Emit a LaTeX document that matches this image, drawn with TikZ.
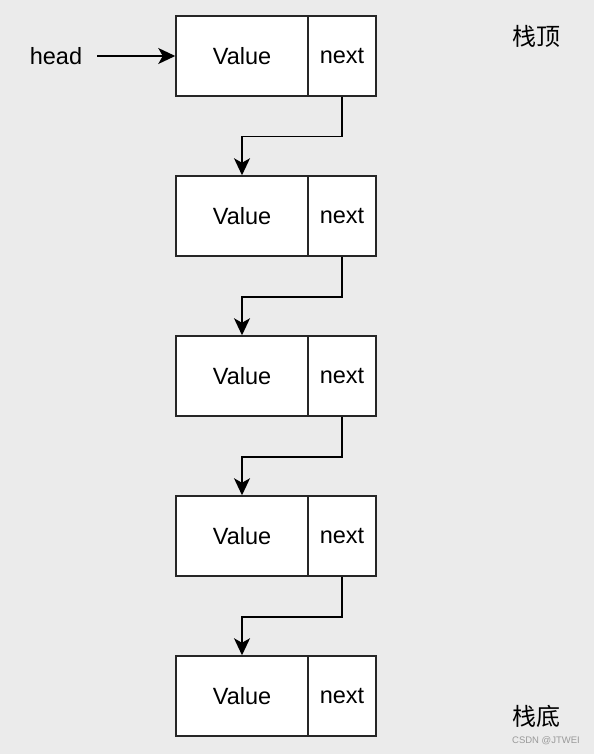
\documentclass[tikz,border=0pt]{standalone}
\usepackage{fontspec}
\setmainfont{Liberation Sans}
\newfontfamily\cjk{Noto Sans CJK SC}
\usetikzlibrary{arrows.meta}
\definecolor{bg}{HTML}{EBEBEB}
\definecolor{wm}{HTML}{9A9A9A}
\tikzset{
  cell/.style={draw=black!85, fill=white, line width=1.5pt, minimum height=80pt, inner sep=0pt, font=\fontsize{23.5}{26}\selectfont},
  valcell/.style={cell, minimum width=132pt},
  nextcell/.style={cell, minimum width=68pt},
  arr/.style={line width=1.5pt, -{Stealth[length=17pt,width=16pt,inset=4.5pt]}},
  lbl/.style={inner sep=0pt, font=\fontsize{23.5}{26}\selectfont},
  cjklbl/.style={inner sep=0pt, font=\cjk\fontsize{24}{26}\selectfont}
}
\begin{document}
\begin{tikzpicture}[x=1pt,y=-1pt]
\fill[bg] (0,0) rectangle (594,754);
\useasboundingbox (0,0) rectangle (594,754);
\foreach \i in {1,...,5}{
  \node[valcell] (v\i) at (242,{56+160*(\i-1)}) {Value};
  \node[nextcell] (n\i) at (342,{56+160*(\i-1)}) {next};
}
\node[lbl] (head) at (56,56) {head};
\draw[arr] ([xshift=15pt]head.east) -- (v1.west);
\foreach \i/\j in {1/2,2/3,3/4,4/5}{
  \draw[arr] (n\i.south) -- ++(0,40) -| (v\j.north);
}
\node[cjklbl] (top) at (536,36) {栈顶};
\node[cjklbl] (bottom) at (536,716) {栈底};
\node[inner sep=0pt, text=wm, font=\fontsize{9.5}{10}\selectfont] (wmk) at (546,741) {CSDN @JTWEI};
\end{tikzpicture}
\end{document}
